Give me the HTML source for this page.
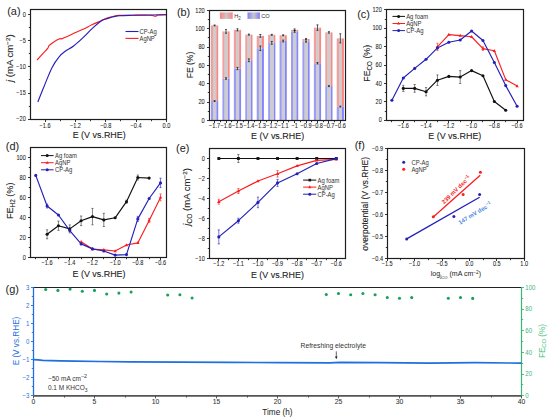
<!DOCTYPE html><html><head><meta charset="utf-8"><style>html,body{margin:0;padding:0;background:#fff;width:550px;height:420px;overflow:hidden}svg{display:block}text{font-family:"Liberation Sans",sans-serif}</style></head><body>
<svg width="550" height="420" viewBox="0 0 550 420">
<rect width="550" height="420" fill="#fff"/>
<line x1="45.50" y1="119.50" x2="45.50" y2="122.00" stroke="#1e1e1e" stroke-width="0.9"/>
<line x1="75.50" y1="119.50" x2="75.50" y2="122.00" stroke="#1e1e1e" stroke-width="0.9"/>
<line x1="105.50" y1="119.50" x2="105.50" y2="122.00" stroke="#1e1e1e" stroke-width="0.9"/>
<line x1="136.50" y1="119.50" x2="136.50" y2="122.00" stroke="#1e1e1e" stroke-width="0.9"/>
<line x1="166.50" y1="119.50" x2="166.50" y2="122.00" stroke="#1e1e1e" stroke-width="0.9"/>
<line x1="60.50" y1="119.50" x2="60.50" y2="121.20" stroke="#1e1e1e" stroke-width="0.9"/>
<line x1="90.50" y1="119.50" x2="90.50" y2="121.20" stroke="#1e1e1e" stroke-width="0.9"/>
<line x1="120.50" y1="119.50" x2="120.50" y2="121.20" stroke="#1e1e1e" stroke-width="0.9"/>
<line x1="151.50" y1="119.50" x2="151.50" y2="121.20" stroke="#1e1e1e" stroke-width="0.9"/>
<line x1="30.50" y1="14.50" x2="28.00" y2="14.50" stroke="#1e1e1e" stroke-width="0.9"/>
<line x1="30.50" y1="40.50" x2="28.00" y2="40.50" stroke="#1e1e1e" stroke-width="0.9"/>
<line x1="30.50" y1="66.50" x2="28.00" y2="66.50" stroke="#1e1e1e" stroke-width="0.9"/>
<line x1="30.50" y1="93.50" x2="28.00" y2="93.50" stroke="#1e1e1e" stroke-width="0.9"/>
<line x1="30.50" y1="119.50" x2="28.00" y2="119.50" stroke="#1e1e1e" stroke-width="0.9"/>
<line x1="30.50" y1="27.50" x2="28.80" y2="27.50" stroke="#1e1e1e" stroke-width="0.9"/>
<line x1="30.50" y1="53.50" x2="28.80" y2="53.50" stroke="#1e1e1e" stroke-width="0.9"/>
<line x1="30.50" y1="79.50" x2="28.80" y2="79.50" stroke="#1e1e1e" stroke-width="0.9"/>
<line x1="30.50" y1="106.50" x2="28.80" y2="106.50" stroke="#1e1e1e" stroke-width="0.9"/>
<text transform="translate(45.12 128.10) scale(0.86 1)" font-size="6.5" text-anchor="middle" fill="#222" font-weight="normal" stroke="#222" stroke-width="0.06">&#8722;1.6</text>
<text transform="translate(75.44 128.10) scale(0.86 1)" font-size="6.5" text-anchor="middle" fill="#222" font-weight="normal" stroke="#222" stroke-width="0.06">&#8722;1.2</text>
<text transform="translate(105.76 128.10) scale(0.86 1)" font-size="6.5" text-anchor="middle" fill="#222" font-weight="normal" stroke="#222" stroke-width="0.06">&#8722;0.8</text>
<text transform="translate(136.08 128.10) scale(0.86 1)" font-size="6.5" text-anchor="middle" fill="#222" font-weight="normal" stroke="#222" stroke-width="0.06">&#8722;0.4</text>
<text transform="translate(166.40 128.10) scale(0.86 1)" font-size="6.5" text-anchor="middle" fill="#222" font-weight="normal" stroke="#222" stroke-width="0.06">0.0</text>
<text transform="translate(25.80 16.50) scale(0.86 1)" font-size="6.5" text-anchor="end" fill="#222" font-weight="normal" stroke="#222" stroke-width="0.06">0</text>
<text transform="translate(25.80 42.65) scale(0.86 1)" font-size="6.5" text-anchor="end" fill="#222" font-weight="normal" stroke="#222" stroke-width="0.06">&#8722;5</text>
<text transform="translate(25.80 68.80) scale(0.86 1)" font-size="6.5" text-anchor="end" fill="#222" font-weight="normal" stroke="#222" stroke-width="0.06">&#8722;10</text>
<text transform="translate(25.80 94.95) scale(0.86 1)" font-size="6.5" text-anchor="end" fill="#222" font-weight="normal" stroke="#222" stroke-width="0.06">&#8722;15</text>
<text transform="translate(25.80 121.10) scale(0.86 1)" font-size="6.5" text-anchor="end" fill="#222" font-weight="normal" stroke="#222" stroke-width="0.06">&#8722;20</text>
<path d="M37.10,60.00 C38.10,58.88 41.30,55.28 43.10,53.30 C44.90,51.32 46.92,49.38 47.90,48.10 C48.88,46.82 48.02,46.63 49.00,45.60 C49.98,44.57 52.00,43.03 53.80,41.90 C55.60,40.77 58.42,39.35 59.80,38.80 C61.18,38.25 59.92,39.43 62.10,38.60 C64.28,37.77 69.32,35.40 72.90,33.80 C76.48,32.20 80.43,30.50 83.60,29.00 C86.77,27.50 88.93,26.18 91.90,24.80 C94.87,23.42 98.98,21.77 101.40,20.70 C103.82,19.63 104.52,19.10 106.40,18.40 C108.28,17.70 110.58,17.00 112.70,16.50 C114.82,16.00 115.92,15.62 119.10,15.40 C122.28,15.18 126.65,15.23 131.80,15.20 C136.95,15.17 146.07,15.02 150.00,15.20 C153.93,15.38 154.07,16.33 155.40,16.30 C156.73,16.27 156.23,15.28 158.00,15.00 C159.77,14.72 164.67,14.67 166.00,14.60" fill="none" stroke="#fa1e1e" stroke-width="1.15" stroke-linejoin="round"/>
<path d="M37.80,102.00 C39.00,99.02 42.62,89.87 45.00,84.10 C47.38,78.33 49.72,71.97 52.10,67.40 C54.48,62.83 57.12,59.38 59.30,56.70 C61.48,54.02 62.82,53.08 65.20,51.30 C67.58,49.52 70.62,48.27 73.60,46.00 C76.58,43.73 79.93,40.67 83.10,37.70 C86.27,34.73 89.43,31.10 92.60,28.20 C95.77,25.30 99.68,21.88 102.10,20.30 C104.52,18.72 105.22,19.28 107.10,18.70 C108.98,18.12 111.28,17.30 113.40,16.80 C115.52,16.30 116.62,15.95 119.80,15.70 C122.98,15.45 124.68,15.45 132.50,15.30 C140.32,15.15 161.00,14.88 166.70,14.80" fill="none" stroke="#2420b8" stroke-width="1.15" stroke-linejoin="round"/>
<rect x="30.50" y="9.50" width="136.00" height="110.00" fill="none" stroke="#1e1e1e" stroke-width="1.2"/>
<line x1="125.50" y1="31.50" x2="138.50" y2="31.50" stroke="#2420b8" stroke-width="1.1"/>
<text transform="translate(139.50 33.60) scale(0.86 1)" font-size="6.8" text-anchor="start" fill="#333" font-weight="normal">CP-Ag</text>
<line x1="125.50" y1="38.40" x2="138.50" y2="38.40" stroke="#fa1e1e" stroke-width="1.1"/>
<text transform="translate(139.50 40.50) scale(0.86 1)" font-size="6.8" text-anchor="start" fill="#333" font-weight="normal">AgNP</text>
<text transform="translate(7.20 15.20) scale(0.95 1)" font-size="11.5" text-anchor="start" fill="#222" font-weight="normal">(a)</text>
<text transform="translate(99.20 137.70) scale(0.96 1)" font-size="9.3" text-anchor="middle" fill="#222" font-weight="normal" stroke="#222" stroke-width="0.1">E (V vs.RHE)</text>
<text transform="translate(13.00 58.20) rotate(-90)" font-size="9.6" text-anchor="middle" fill="#222" font-weight="normal" stroke="#222" stroke-width="0.1"><tspan font-style="italic">j</tspan> (mA cm<tspan dy="-3" font-size="6.2">&#8722;2</tspan><tspan dy="3">)</tspan></text>
<defs><linearGradient id="gr" x1="0" x2="1" y1="0" y2="0"><stop offset="0" stop-color="#f59c9c"/><stop offset="0.24" stop-color="#f59c9c"/><stop offset="0.30" stop-color="#d0cccc"/><stop offset="0.74" stop-color="#d0cccc"/><stop offset="0.80" stop-color="#ff8484"/><stop offset="1" stop-color="#ff8484"/></linearGradient><linearGradient id="gb" x1="0" x2="1" y1="0" y2="0"><stop offset="0" stop-color="#9c9cf5"/><stop offset="0.24" stop-color="#9c9cf5"/><stop offset="0.30" stop-color="#cccdd2"/><stop offset="0.74" stop-color="#cccdd2"/><stop offset="0.80" stop-color="#8484ff"/><stop offset="1" stop-color="#8484ff"/></linearGradient>
<linearGradient id="lgr" x1="0" x2="1"><stop offset="0" stop-color="#ff7f7f"/><stop offset="0.5" stop-color="#c8c8c8"/><stop offset="1" stop-color="#ff7f7f"/></linearGradient>
<linearGradient id="lgb" x1="0" x2="1"><stop offset="0" stop-color="#7f7fff"/><stop offset="0.5" stop-color="#c8c8c8"/><stop offset="1" stop-color="#7f7fff"/></linearGradient></defs>
<rect x="211.00" y="25.44" width="7.2" height="75.63" fill="url(#gr)"/>
<rect x="211.00" y="101.07" width="7.2" height="19.43" fill="url(#gb)"/>
<rect x="222.43" y="31.40" width="7.2" height="47.12" fill="url(#gr)"/>
<rect x="222.43" y="78.52" width="7.2" height="41.98" fill="url(#gb)"/>
<rect x="233.86" y="29.84" width="7.2" height="38.68" fill="url(#gr)"/>
<rect x="233.86" y="68.52" width="7.2" height="51.98" fill="url(#gb)"/>
<rect x="245.29" y="34.61" width="7.2" height="25.67" fill="url(#gr)"/>
<rect x="245.29" y="60.27" width="7.2" height="60.23" fill="url(#gb)"/>
<rect x="256.72" y="35.89" width="7.2" height="12.38" fill="url(#gr)"/>
<rect x="256.72" y="48.26" width="7.2" height="72.24" fill="url(#gb)"/>
<rect x="268.15" y="34.79" width="7.2" height="8.07" fill="url(#gr)"/>
<rect x="268.15" y="42.86" width="7.2" height="77.64" fill="url(#gb)"/>
<rect x="279.58" y="35.25" width="7.2" height="5.78" fill="url(#gr)"/>
<rect x="279.58" y="41.02" width="7.2" height="79.48" fill="url(#gb)"/>
<rect x="291.01" y="29.84" width="7.2" height="1.56" fill="url(#gr)"/>
<rect x="291.01" y="31.40" width="7.2" height="89.10" fill="url(#gb)"/>
<rect x="302.44" y="39.01" width="7.2" height="2.57" fill="url(#gr)"/>
<rect x="302.44" y="41.57" width="7.2" height="78.93" fill="url(#gb)"/>
<rect x="313.87" y="27.64" width="7.2" height="35.57" fill="url(#gr)"/>
<rect x="313.87" y="63.21" width="7.2" height="57.29" fill="url(#gb)"/>
<rect x="325.30" y="32.41" width="7.2" height="53.72" fill="url(#gr)"/>
<rect x="325.30" y="86.12" width="7.2" height="34.38" fill="url(#gb)"/>
<rect x="336.73" y="38.36" width="7.2" height="68.20" fill="url(#gr)"/>
<rect x="336.73" y="106.57" width="7.2" height="13.93" fill="url(#gb)"/>
<line x1="214.60" y1="24.98" x2="214.60" y2="25.90" stroke="#111" stroke-width="0.7"/>
<line x1="213.60" y1="24.98" x2="215.60" y2="24.98" stroke="#111" stroke-width="0.7"/>
<line x1="213.60" y1="25.90" x2="215.60" y2="25.90" stroke="#111" stroke-width="0.7"/>
<line x1="214.60" y1="100.61" x2="214.60" y2="101.52" stroke="#111" stroke-width="0.7"/>
<line x1="213.60" y1="100.61" x2="215.60" y2="100.61" stroke="#111" stroke-width="0.7"/>
<line x1="213.60" y1="101.52" x2="215.60" y2="101.52" stroke="#111" stroke-width="0.7"/>
<line x1="226.03" y1="29.56" x2="226.03" y2="33.23" stroke="#111" stroke-width="0.7"/>
<line x1="225.03" y1="29.56" x2="227.03" y2="29.56" stroke="#111" stroke-width="0.7"/>
<line x1="225.03" y1="33.23" x2="227.03" y2="33.23" stroke="#111" stroke-width="0.7"/>
<line x1="226.03" y1="77.78" x2="226.03" y2="79.25" stroke="#111" stroke-width="0.7"/>
<line x1="225.03" y1="77.78" x2="227.03" y2="77.78" stroke="#111" stroke-width="0.7"/>
<line x1="225.03" y1="79.25" x2="227.03" y2="79.25" stroke="#111" stroke-width="0.7"/>
<line x1="237.46" y1="28.74" x2="237.46" y2="30.94" stroke="#111" stroke-width="0.7"/>
<line x1="236.46" y1="28.74" x2="238.46" y2="28.74" stroke="#111" stroke-width="0.7"/>
<line x1="236.46" y1="30.94" x2="238.46" y2="30.94" stroke="#111" stroke-width="0.7"/>
<line x1="237.46" y1="67.42" x2="237.46" y2="69.62" stroke="#111" stroke-width="0.7"/>
<line x1="236.46" y1="67.42" x2="238.46" y2="67.42" stroke="#111" stroke-width="0.7"/>
<line x1="236.46" y1="69.62" x2="238.46" y2="69.62" stroke="#111" stroke-width="0.7"/>
<line x1="248.89" y1="34.06" x2="248.89" y2="35.16" stroke="#111" stroke-width="0.7"/>
<line x1="247.89" y1="34.06" x2="249.89" y2="34.06" stroke="#111" stroke-width="0.7"/>
<line x1="247.89" y1="35.16" x2="249.89" y2="35.16" stroke="#111" stroke-width="0.7"/>
<line x1="248.89" y1="58.90" x2="248.89" y2="61.65" stroke="#111" stroke-width="0.7"/>
<line x1="247.89" y1="58.90" x2="249.89" y2="58.90" stroke="#111" stroke-width="0.7"/>
<line x1="247.89" y1="61.65" x2="249.89" y2="61.65" stroke="#111" stroke-width="0.7"/>
<line x1="260.32" y1="34.51" x2="260.32" y2="37.26" stroke="#111" stroke-width="0.7"/>
<line x1="259.32" y1="34.51" x2="261.32" y2="34.51" stroke="#111" stroke-width="0.7"/>
<line x1="259.32" y1="37.26" x2="261.32" y2="37.26" stroke="#111" stroke-width="0.7"/>
<line x1="260.32" y1="45.97" x2="260.32" y2="50.56" stroke="#111" stroke-width="0.7"/>
<line x1="259.32" y1="45.97" x2="261.32" y2="45.97" stroke="#111" stroke-width="0.7"/>
<line x1="259.32" y1="50.56" x2="261.32" y2="50.56" stroke="#111" stroke-width="0.7"/>
<line x1="271.75" y1="34.33" x2="271.75" y2="35.25" stroke="#111" stroke-width="0.7"/>
<line x1="270.75" y1="34.33" x2="272.75" y2="34.33" stroke="#111" stroke-width="0.7"/>
<line x1="270.75" y1="35.25" x2="272.75" y2="35.25" stroke="#111" stroke-width="0.7"/>
<line x1="271.75" y1="41.48" x2="271.75" y2="44.23" stroke="#111" stroke-width="0.7"/>
<line x1="270.75" y1="41.48" x2="272.75" y2="41.48" stroke="#111" stroke-width="0.7"/>
<line x1="270.75" y1="44.23" x2="272.75" y2="44.23" stroke="#111" stroke-width="0.7"/>
<line x1="283.18" y1="34.79" x2="283.18" y2="35.71" stroke="#111" stroke-width="0.7"/>
<line x1="282.18" y1="34.79" x2="284.18" y2="34.79" stroke="#111" stroke-width="0.7"/>
<line x1="282.18" y1="35.71" x2="284.18" y2="35.71" stroke="#111" stroke-width="0.7"/>
<line x1="283.18" y1="40.11" x2="283.18" y2="41.94" stroke="#111" stroke-width="0.7"/>
<line x1="282.18" y1="40.11" x2="284.18" y2="40.11" stroke="#111" stroke-width="0.7"/>
<line x1="282.18" y1="41.94" x2="284.18" y2="41.94" stroke="#111" stroke-width="0.7"/>
<line x1="294.61" y1="28.92" x2="294.61" y2="30.76" stroke="#111" stroke-width="0.7"/>
<line x1="293.61" y1="28.92" x2="295.61" y2="28.92" stroke="#111" stroke-width="0.7"/>
<line x1="293.61" y1="30.76" x2="295.61" y2="30.76" stroke="#111" stroke-width="0.7"/>
<line x1="294.61" y1="30.48" x2="294.61" y2="32.31" stroke="#111" stroke-width="0.7"/>
<line x1="293.61" y1="30.48" x2="295.61" y2="30.48" stroke="#111" stroke-width="0.7"/>
<line x1="293.61" y1="32.31" x2="295.61" y2="32.31" stroke="#111" stroke-width="0.7"/>
<line x1="306.04" y1="38.46" x2="306.04" y2="39.56" stroke="#111" stroke-width="0.7"/>
<line x1="305.04" y1="38.46" x2="307.04" y2="38.46" stroke="#111" stroke-width="0.7"/>
<line x1="305.04" y1="39.56" x2="307.04" y2="39.56" stroke="#111" stroke-width="0.7"/>
<line x1="306.04" y1="41.02" x2="306.04" y2="42.12" stroke="#111" stroke-width="0.7"/>
<line x1="305.04" y1="41.02" x2="307.04" y2="41.02" stroke="#111" stroke-width="0.7"/>
<line x1="305.04" y1="42.12" x2="307.04" y2="42.12" stroke="#111" stroke-width="0.7"/>
<line x1="317.47" y1="24.89" x2="317.47" y2="30.39" stroke="#111" stroke-width="0.7"/>
<line x1="316.47" y1="24.89" x2="318.47" y2="24.89" stroke="#111" stroke-width="0.7"/>
<line x1="316.47" y1="30.39" x2="318.47" y2="30.39" stroke="#111" stroke-width="0.7"/>
<line x1="317.47" y1="62.47" x2="317.47" y2="63.94" stroke="#111" stroke-width="0.7"/>
<line x1="316.47" y1="62.47" x2="318.47" y2="62.47" stroke="#111" stroke-width="0.7"/>
<line x1="316.47" y1="63.94" x2="318.47" y2="63.94" stroke="#111" stroke-width="0.7"/>
<line x1="328.90" y1="31.67" x2="328.90" y2="33.14" stroke="#111" stroke-width="0.7"/>
<line x1="327.90" y1="31.67" x2="329.90" y2="31.67" stroke="#111" stroke-width="0.7"/>
<line x1="327.90" y1="33.14" x2="329.90" y2="33.14" stroke="#111" stroke-width="0.7"/>
<line x1="328.90" y1="85.67" x2="328.90" y2="86.58" stroke="#111" stroke-width="0.7"/>
<line x1="327.90" y1="85.67" x2="329.90" y2="85.67" stroke="#111" stroke-width="0.7"/>
<line x1="327.90" y1="86.58" x2="329.90" y2="86.58" stroke="#111" stroke-width="0.7"/>
<line x1="340.33" y1="33.78" x2="340.33" y2="42.95" stroke="#111" stroke-width="0.7"/>
<line x1="339.33" y1="33.78" x2="341.33" y2="33.78" stroke="#111" stroke-width="0.7"/>
<line x1="339.33" y1="42.95" x2="341.33" y2="42.95" stroke="#111" stroke-width="0.7"/>
<line x1="340.33" y1="106.11" x2="340.33" y2="107.02" stroke="#111" stroke-width="0.7"/>
<line x1="339.33" y1="106.11" x2="341.33" y2="106.11" stroke="#111" stroke-width="0.7"/>
<line x1="339.33" y1="107.02" x2="341.33" y2="107.02" stroke="#111" stroke-width="0.7"/>
<rect x="209.50" y="10.50" width="136.00" height="110.00" fill="none" stroke="#1e1e1e" stroke-width="1.2"/>
<line x1="209.50" y1="120.50" x2="207.00" y2="120.50" stroke="#1e1e1e" stroke-width="0.9"/>
<line x1="209.50" y1="102.50" x2="207.00" y2="102.50" stroke="#1e1e1e" stroke-width="0.9"/>
<line x1="209.50" y1="83.50" x2="207.00" y2="83.50" stroke="#1e1e1e" stroke-width="0.9"/>
<line x1="209.50" y1="65.50" x2="207.00" y2="65.50" stroke="#1e1e1e" stroke-width="0.9"/>
<line x1="209.50" y1="47.50" x2="207.00" y2="47.50" stroke="#1e1e1e" stroke-width="0.9"/>
<line x1="209.50" y1="28.50" x2="207.00" y2="28.50" stroke="#1e1e1e" stroke-width="0.9"/>
<line x1="209.50" y1="10.50" x2="207.00" y2="10.50" stroke="#1e1e1e" stroke-width="0.9"/>
<line x1="209.50" y1="111.50" x2="207.80" y2="111.50" stroke="#1e1e1e" stroke-width="0.9"/>
<line x1="209.50" y1="92.50" x2="207.80" y2="92.50" stroke="#1e1e1e" stroke-width="0.9"/>
<line x1="209.50" y1="74.50" x2="207.80" y2="74.50" stroke="#1e1e1e" stroke-width="0.9"/>
<line x1="209.50" y1="56.50" x2="207.80" y2="56.50" stroke="#1e1e1e" stroke-width="0.9"/>
<line x1="209.50" y1="37.50" x2="207.80" y2="37.50" stroke="#1e1e1e" stroke-width="0.9"/>
<line x1="209.50" y1="19.50" x2="207.80" y2="19.50" stroke="#1e1e1e" stroke-width="0.9"/>
<line x1="214.50" y1="120.50" x2="214.50" y2="123.00" stroke="#1e1e1e" stroke-width="0.9"/>
<line x1="226.50" y1="120.50" x2="226.50" y2="123.00" stroke="#1e1e1e" stroke-width="0.9"/>
<line x1="237.50" y1="120.50" x2="237.50" y2="123.00" stroke="#1e1e1e" stroke-width="0.9"/>
<line x1="248.50" y1="120.50" x2="248.50" y2="123.00" stroke="#1e1e1e" stroke-width="0.9"/>
<line x1="260.50" y1="120.50" x2="260.50" y2="123.00" stroke="#1e1e1e" stroke-width="0.9"/>
<line x1="271.50" y1="120.50" x2="271.50" y2="123.00" stroke="#1e1e1e" stroke-width="0.9"/>
<line x1="283.50" y1="120.50" x2="283.50" y2="123.00" stroke="#1e1e1e" stroke-width="0.9"/>
<line x1="294.50" y1="120.50" x2="294.50" y2="123.00" stroke="#1e1e1e" stroke-width="0.9"/>
<line x1="306.50" y1="120.50" x2="306.50" y2="123.00" stroke="#1e1e1e" stroke-width="0.9"/>
<line x1="317.50" y1="120.50" x2="317.50" y2="123.00" stroke="#1e1e1e" stroke-width="0.9"/>
<line x1="328.50" y1="120.50" x2="328.50" y2="123.00" stroke="#1e1e1e" stroke-width="0.9"/>
<line x1="340.50" y1="120.50" x2="340.50" y2="123.00" stroke="#1e1e1e" stroke-width="0.9"/>
<line x1="220.50" y1="120.50" x2="220.50" y2="122.20" stroke="#1e1e1e" stroke-width="0.9"/>
<line x1="231.50" y1="120.50" x2="231.50" y2="122.20" stroke="#1e1e1e" stroke-width="0.9"/>
<line x1="243.50" y1="120.50" x2="243.50" y2="122.20" stroke="#1e1e1e" stroke-width="0.9"/>
<line x1="254.50" y1="120.50" x2="254.50" y2="122.20" stroke="#1e1e1e" stroke-width="0.9"/>
<line x1="266.50" y1="120.50" x2="266.50" y2="122.20" stroke="#1e1e1e" stroke-width="0.9"/>
<line x1="277.50" y1="120.50" x2="277.50" y2="122.20" stroke="#1e1e1e" stroke-width="0.9"/>
<line x1="288.50" y1="120.50" x2="288.50" y2="122.20" stroke="#1e1e1e" stroke-width="0.9"/>
<line x1="300.50" y1="120.50" x2="300.50" y2="122.20" stroke="#1e1e1e" stroke-width="0.9"/>
<line x1="311.50" y1="120.50" x2="311.50" y2="122.20" stroke="#1e1e1e" stroke-width="0.9"/>
<line x1="323.50" y1="120.50" x2="323.50" y2="122.20" stroke="#1e1e1e" stroke-width="0.9"/>
<line x1="334.50" y1="120.50" x2="334.50" y2="122.20" stroke="#1e1e1e" stroke-width="0.9"/>
<text transform="translate(204.60 122.60) scale(0.86 1)" font-size="6.5" text-anchor="end" fill="#222" font-weight="normal" stroke="#222" stroke-width="0.06">0</text>
<text transform="translate(204.60 104.27) scale(0.86 1)" font-size="6.5" text-anchor="end" fill="#222" font-weight="normal" stroke="#222" stroke-width="0.06">20</text>
<text transform="translate(204.60 85.93) scale(0.86 1)" font-size="6.5" text-anchor="end" fill="#222" font-weight="normal" stroke="#222" stroke-width="0.06">40</text>
<text transform="translate(204.60 67.60) scale(0.86 1)" font-size="6.5" text-anchor="end" fill="#222" font-weight="normal" stroke="#222" stroke-width="0.06">60</text>
<text transform="translate(204.60 49.26) scale(0.86 1)" font-size="6.5" text-anchor="end" fill="#222" font-weight="normal" stroke="#222" stroke-width="0.06">80</text>
<text transform="translate(204.60 30.93) scale(0.86 1)" font-size="6.5" text-anchor="end" fill="#222" font-weight="normal" stroke="#222" stroke-width="0.06">100</text>
<text transform="translate(204.60 12.60) scale(0.86 1)" font-size="6.5" text-anchor="end" fill="#222" font-weight="normal" stroke="#222" stroke-width="0.06">120</text>
<text transform="translate(214.60 128.30) scale(0.86 1)" font-size="6.5" text-anchor="middle" fill="#222" font-weight="normal" stroke="#222" stroke-width="0.06">&#8722;1.7</text>
<text transform="translate(226.03 128.30) scale(0.86 1)" font-size="6.5" text-anchor="middle" fill="#222" font-weight="normal" stroke="#222" stroke-width="0.06">&#8722;1.6</text>
<text transform="translate(237.46 128.30) scale(0.86 1)" font-size="6.5" text-anchor="middle" fill="#222" font-weight="normal" stroke="#222" stroke-width="0.06">&#8722;1.5</text>
<text transform="translate(248.89 128.30) scale(0.86 1)" font-size="6.5" text-anchor="middle" fill="#222" font-weight="normal" stroke="#222" stroke-width="0.06">&#8722;1.4</text>
<text transform="translate(260.32 128.30) scale(0.86 1)" font-size="6.5" text-anchor="middle" fill="#222" font-weight="normal" stroke="#222" stroke-width="0.06">&#8722;1.3</text>
<text transform="translate(271.75 128.30) scale(0.86 1)" font-size="6.5" text-anchor="middle" fill="#222" font-weight="normal" stroke="#222" stroke-width="0.06">&#8722;1.2</text>
<text transform="translate(283.18 128.30) scale(0.86 1)" font-size="6.5" text-anchor="middle" fill="#222" font-weight="normal" stroke="#222" stroke-width="0.06">&#8722;1.1</text>
<text transform="translate(294.61 128.30) scale(0.86 1)" font-size="6.5" text-anchor="middle" fill="#222" font-weight="normal" stroke="#222" stroke-width="0.06">&#8722;1</text>
<text transform="translate(306.04 128.30) scale(0.86 1)" font-size="6.5" text-anchor="middle" fill="#222" font-weight="normal" stroke="#222" stroke-width="0.06">&#8722;0.9</text>
<text transform="translate(317.47 128.30) scale(0.86 1)" font-size="6.5" text-anchor="middle" fill="#222" font-weight="normal" stroke="#222" stroke-width="0.06">&#8722;0.8</text>
<text transform="translate(328.90 128.30) scale(0.86 1)" font-size="6.5" text-anchor="middle" fill="#222" font-weight="normal" stroke="#222" stroke-width="0.06">&#8722;0.7</text>
<text transform="translate(340.33 128.30) scale(0.86 1)" font-size="6.5" text-anchor="middle" fill="#222" font-weight="normal" stroke="#222" stroke-width="0.06">&#8722;0.6</text>
<rect x="219.9" y="12.4" width="12.8" height="6.5" fill="url(#lgr)"/>
<text transform="translate(234.20 17.70) scale(0.96 1)" font-size="5.9" text-anchor="start" fill="#333" font-weight="normal">H<tspan dy="1.8" font-size="4.6">2</tspan></text>
<rect x="247.5" y="12.4" width="12.4" height="6.5" fill="url(#lgb)"/>
<text transform="translate(261.20 17.70) scale(0.96 1)" font-size="5.9" text-anchor="start" fill="#333" font-weight="normal">CO</text>
<text transform="translate(176.90 15.60) scale(0.95 1)" font-size="11.5" text-anchor="start" fill="#222" font-weight="normal">(b)</text>
<text transform="translate(277.60 138.50) scale(0.96 1)" font-size="9.3" text-anchor="middle" fill="#222" font-weight="normal" stroke="#222" stroke-width="0.1">E (V vs.RHE)</text>
<text transform="translate(192.60 65.00) rotate(-90) scale(0.92 1)" font-size="9.3" text-anchor="middle" fill="#222" font-weight="normal" stroke="#222" stroke-width="0.1">FE (%)</text>
<line x1="403.50" y1="120.50" x2="403.50" y2="123.00" stroke="#1e1e1e" stroke-width="0.9"/>
<line x1="426.50" y1="120.50" x2="426.50" y2="123.00" stroke="#1e1e1e" stroke-width="0.9"/>
<line x1="448.50" y1="120.50" x2="448.50" y2="123.00" stroke="#1e1e1e" stroke-width="0.9"/>
<line x1="471.50" y1="120.50" x2="471.50" y2="123.00" stroke="#1e1e1e" stroke-width="0.9"/>
<line x1="494.50" y1="120.50" x2="494.50" y2="123.00" stroke="#1e1e1e" stroke-width="0.9"/>
<line x1="517.50" y1="120.50" x2="517.50" y2="123.00" stroke="#1e1e1e" stroke-width="0.9"/>
<line x1="391.50" y1="120.50" x2="391.50" y2="122.20" stroke="#1e1e1e" stroke-width="0.9"/>
<line x1="414.50" y1="120.50" x2="414.50" y2="122.20" stroke="#1e1e1e" stroke-width="0.9"/>
<line x1="437.50" y1="120.50" x2="437.50" y2="122.20" stroke="#1e1e1e" stroke-width="0.9"/>
<line x1="460.50" y1="120.50" x2="460.50" y2="122.20" stroke="#1e1e1e" stroke-width="0.9"/>
<line x1="482.50" y1="120.50" x2="482.50" y2="122.20" stroke="#1e1e1e" stroke-width="0.9"/>
<line x1="505.50" y1="120.50" x2="505.50" y2="122.20" stroke="#1e1e1e" stroke-width="0.9"/>
<line x1="386.50" y1="120.50" x2="384.00" y2="120.50" stroke="#1e1e1e" stroke-width="0.9"/>
<line x1="386.50" y1="101.50" x2="384.00" y2="101.50" stroke="#1e1e1e" stroke-width="0.9"/>
<line x1="386.50" y1="83.50" x2="384.00" y2="83.50" stroke="#1e1e1e" stroke-width="0.9"/>
<line x1="386.50" y1="65.50" x2="384.00" y2="65.50" stroke="#1e1e1e" stroke-width="0.9"/>
<line x1="386.50" y1="46.50" x2="384.00" y2="46.50" stroke="#1e1e1e" stroke-width="0.9"/>
<line x1="386.50" y1="28.50" x2="384.00" y2="28.50" stroke="#1e1e1e" stroke-width="0.9"/>
<line x1="386.50" y1="9.50" x2="384.00" y2="9.50" stroke="#1e1e1e" stroke-width="0.9"/>
<line x1="386.50" y1="111.50" x2="384.80" y2="111.50" stroke="#1e1e1e" stroke-width="0.9"/>
<line x1="386.50" y1="92.50" x2="384.80" y2="92.50" stroke="#1e1e1e" stroke-width="0.9"/>
<line x1="386.50" y1="74.50" x2="384.80" y2="74.50" stroke="#1e1e1e" stroke-width="0.9"/>
<line x1="386.50" y1="55.50" x2="384.80" y2="55.50" stroke="#1e1e1e" stroke-width="0.9"/>
<line x1="386.50" y1="37.50" x2="384.80" y2="37.50" stroke="#1e1e1e" stroke-width="0.9"/>
<line x1="386.50" y1="19.50" x2="384.80" y2="19.50" stroke="#1e1e1e" stroke-width="0.9"/>
<text transform="translate(403.30 128.30) scale(0.86 1)" font-size="6.5" text-anchor="middle" fill="#222" font-weight="normal" stroke="#222" stroke-width="0.06">&#8722;1.6</text>
<text transform="translate(426.06 128.30) scale(0.86 1)" font-size="6.5" text-anchor="middle" fill="#222" font-weight="normal" stroke="#222" stroke-width="0.06">&#8722;1.4</text>
<text transform="translate(448.82 128.30) scale(0.86 1)" font-size="6.5" text-anchor="middle" fill="#222" font-weight="normal" stroke="#222" stroke-width="0.06">&#8722;1.2</text>
<text transform="translate(471.58 128.30) scale(0.86 1)" font-size="6.5" text-anchor="middle" fill="#222" font-weight="normal" stroke="#222" stroke-width="0.06">&#8722;1.0</text>
<text transform="translate(494.34 128.30) scale(0.86 1)" font-size="6.5" text-anchor="middle" fill="#222" font-weight="normal" stroke="#222" stroke-width="0.06">&#8722;0.8</text>
<text transform="translate(517.10 128.30) scale(0.86 1)" font-size="6.5" text-anchor="middle" fill="#222" font-weight="normal" stroke="#222" stroke-width="0.06">&#8722;0.6</text>
<text transform="translate(381.80 122.40) scale(0.86 1)" font-size="6.5" text-anchor="end" fill="#222" font-weight="normal" stroke="#222" stroke-width="0.06">0</text>
<text transform="translate(381.80 104.00) scale(0.86 1)" font-size="6.5" text-anchor="end" fill="#222" font-weight="normal" stroke="#222" stroke-width="0.06">20</text>
<text transform="translate(381.80 85.60) scale(0.86 1)" font-size="6.5" text-anchor="end" fill="#222" font-weight="normal" stroke="#222" stroke-width="0.06">40</text>
<text transform="translate(381.80 67.20) scale(0.86 1)" font-size="6.5" text-anchor="end" fill="#222" font-weight="normal" stroke="#222" stroke-width="0.06">60</text>
<text transform="translate(381.80 48.80) scale(0.86 1)" font-size="6.5" text-anchor="end" fill="#222" font-weight="normal" stroke="#222" stroke-width="0.06">80</text>
<text transform="translate(381.80 30.40) scale(0.86 1)" font-size="6.5" text-anchor="end" fill="#222" font-weight="normal" stroke="#222" stroke-width="0.06">100</text>
<text transform="translate(381.80 12.00) scale(0.86 1)" font-size="6.5" text-anchor="end" fill="#222" font-weight="normal" stroke="#222" stroke-width="0.06">120</text>
<line x1="403.30" y1="85.34" x2="403.30" y2="91.41" stroke="#333" stroke-width="0.6"/>
<line x1="402.20" y1="85.34" x2="404.40" y2="85.34" stroke="#333" stroke-width="0.6"/>
<line x1="402.20" y1="91.41" x2="404.40" y2="91.41" stroke="#333" stroke-width="0.6"/>
<line x1="414.68" y1="84.51" x2="414.68" y2="92.24" stroke="#333" stroke-width="0.6"/>
<line x1="413.58" y1="84.51" x2="415.78" y2="84.51" stroke="#333" stroke-width="0.6"/>
<line x1="413.58" y1="92.24" x2="415.78" y2="92.24" stroke="#333" stroke-width="0.6"/>
<line x1="426.06" y1="87.55" x2="426.06" y2="95.83" stroke="#333" stroke-width="0.6"/>
<line x1="424.96" y1="87.55" x2="427.16" y2="87.55" stroke="#333" stroke-width="0.6"/>
<line x1="424.96" y1="95.83" x2="427.16" y2="95.83" stroke="#333" stroke-width="0.6"/>
<line x1="437.44" y1="74.94" x2="437.44" y2="85.43" stroke="#333" stroke-width="0.6"/>
<line x1="436.34" y1="74.94" x2="438.54" y2="74.94" stroke="#333" stroke-width="0.6"/>
<line x1="436.34" y1="85.43" x2="438.54" y2="85.43" stroke="#333" stroke-width="0.6"/>
<line x1="460.20" y1="70.62" x2="460.20" y2="83.50" stroke="#333" stroke-width="0.6"/>
<line x1="459.10" y1="70.62" x2="461.30" y2="70.62" stroke="#333" stroke-width="0.6"/>
<line x1="459.10" y1="83.50" x2="461.30" y2="83.50" stroke="#333" stroke-width="0.6"/>
<line x1="437.44" y1="43.20" x2="437.44" y2="50.56" stroke="#fa1e1e" stroke-width="0.6"/>
<line x1="436.34" y1="43.20" x2="438.54" y2="43.20" stroke="#fa1e1e" stroke-width="0.6"/>
<line x1="436.34" y1="50.56" x2="438.54" y2="50.56" stroke="#fa1e1e" stroke-width="0.6"/>
<line x1="482.96" y1="46.79" x2="482.96" y2="50.47" stroke="#fa1e1e" stroke-width="0.6"/>
<line x1="481.86" y1="46.79" x2="484.06" y2="46.79" stroke="#fa1e1e" stroke-width="0.6"/>
<line x1="481.86" y1="50.47" x2="484.06" y2="50.47" stroke="#fa1e1e" stroke-width="0.6"/>
<path d="M403.30,88.38 L414.68,88.38 L426.06,91.69 L437.44,80.19 L448.82,76.42 L460.20,77.06 L471.58,70.62 L482.96,75.77 L494.34,101.53 L505.72,110.27" fill="none" stroke="#111" stroke-width="1.15" stroke-linejoin="round"/>
<path d="M437.44,46.88 L448.82,34.56 L460.20,35.66 L471.58,36.76 L482.96,48.63 L494.34,50.75 L505.72,79.64 L517.10,86.08" fill="none" stroke="#fa1e1e" stroke-width="1.15" stroke-linejoin="round"/>
<path d="M391.92,100.24 L403.30,77.98 L414.68,68.41 L426.06,59.30 L437.44,47.90 L448.82,42.19 L460.20,39.98 L471.58,30.97 L482.96,40.44 L494.34,62.52 L505.72,85.62 L517.10,106.22" fill="none" stroke="#2420b8" stroke-width="1.15" stroke-linejoin="round"/>
<circle cx="403.30" cy="88.38" r="1.55" fill="#111"/>
<circle cx="414.68" cy="88.38" r="1.55" fill="#111"/>
<circle cx="426.06" cy="91.69" r="1.55" fill="#111"/>
<circle cx="437.44" cy="80.19" r="1.55" fill="#111"/>
<circle cx="448.82" cy="76.42" r="1.55" fill="#111"/>
<circle cx="460.20" cy="77.06" r="1.55" fill="#111"/>
<circle cx="471.58" cy="70.62" r="1.55" fill="#111"/>
<circle cx="482.96" cy="75.77" r="1.55" fill="#111"/>
<circle cx="494.34" cy="101.53" r="1.55" fill="#111"/>
<circle cx="505.72" cy="110.27" r="1.55" fill="#111"/>
<path d="M437.44,45.01 L439.14,48.07 L435.74,48.07Z" fill="#fa1e1e"/>
<path d="M448.82,32.69 L450.52,35.75 L447.12,35.75Z" fill="#fa1e1e"/>
<path d="M460.20,33.79 L461.90,36.85 L458.50,36.85Z" fill="#fa1e1e"/>
<path d="M471.58,34.89 L473.28,37.95 L469.88,37.95Z" fill="#fa1e1e"/>
<path d="M482.96,46.76 L484.66,49.82 L481.26,49.82Z" fill="#fa1e1e"/>
<path d="M494.34,48.88 L496.04,51.94 L492.64,51.94Z" fill="#fa1e1e"/>
<path d="M505.72,77.77 L507.42,80.83 L504.02,80.83Z" fill="#fa1e1e"/>
<path d="M517.10,84.21 L518.80,87.27 L515.40,87.27Z" fill="#fa1e1e"/>
<circle cx="391.92" cy="100.24" r="1.55" fill="#2420b8"/>
<circle cx="403.30" cy="77.98" r="1.55" fill="#2420b8"/>
<circle cx="414.68" cy="68.41" r="1.55" fill="#2420b8"/>
<circle cx="426.06" cy="59.30" r="1.55" fill="#2420b8"/>
<circle cx="437.44" cy="47.90" r="1.55" fill="#2420b8"/>
<circle cx="448.82" cy="42.19" r="1.55" fill="#2420b8"/>
<circle cx="460.20" cy="39.98" r="1.55" fill="#2420b8"/>
<circle cx="471.58" cy="30.97" r="1.55" fill="#2420b8"/>
<circle cx="482.96" cy="40.44" r="1.55" fill="#2420b8"/>
<circle cx="494.34" cy="62.52" r="1.55" fill="#2420b8"/>
<circle cx="505.72" cy="85.62" r="1.55" fill="#2420b8"/>
<circle cx="517.10" cy="106.22" r="1.55" fill="#2420b8"/>
<rect x="386.50" y="9.50" width="137.00" height="111.00" fill="none" stroke="#1e1e1e" stroke-width="1.2"/>
<line x1="392.50" y1="16.40" x2="405.00" y2="16.40" stroke="#111" stroke-width="1.0"/>
<circle cx="398.60" cy="16.40" r="1.5" fill="#111"/>
<text transform="translate(406.20 18.70) scale(0.92 1)" font-size="6.4" text-anchor="start" fill="#333" font-weight="normal">Ag foam</text>
<line x1="392.50" y1="23.50" x2="405.00" y2="23.50" stroke="#fa1e1e" stroke-width="1.0"/>
<path d="M398.60,21.74 L400.20,24.62 L397.00,24.62Z" fill="#fa1e1e"/>
<text transform="translate(406.20 25.90) scale(0.92 1)" font-size="6.4" text-anchor="start" fill="#333" font-weight="normal">AgNP</text>
<line x1="392.50" y1="30.60" x2="405.00" y2="30.60" stroke="#2420b8" stroke-width="1.0"/>
<circle cx="398.60" cy="30.60" r="1.5" fill="#2420b8"/>
<text transform="translate(406.20 33.00) scale(0.92 1)" font-size="6.4" text-anchor="start" fill="#333" font-weight="normal">CP-Ag</text>
<text transform="translate(357.20 17.60) scale(0.95 1)" font-size="11.5" text-anchor="start" fill="#222" font-weight="normal">(c)</text>
<text transform="translate(454.80 138.60) scale(0.96 1)" font-size="9.3" text-anchor="middle" fill="#222" font-weight="normal" stroke="#222" stroke-width="0.1">E (V vs.RHE)</text>
<text transform="translate(369.50 63.30) rotate(-90) scale(0.95 1)" font-size="9.3" text-anchor="middle" fill="#222" font-weight="normal" stroke="#222" stroke-width="0.1">FE<tspan dy="2" font-size="6.6">CO</tspan><tspan dy="-2"> (%)</tspan></text>
<line x1="47.50" y1="257.50" x2="47.50" y2="260.00" stroke="#1e1e1e" stroke-width="0.9"/>
<line x1="69.50" y1="257.50" x2="69.50" y2="260.00" stroke="#1e1e1e" stroke-width="0.9"/>
<line x1="92.50" y1="257.50" x2="92.50" y2="260.00" stroke="#1e1e1e" stroke-width="0.9"/>
<line x1="115.50" y1="257.50" x2="115.50" y2="260.00" stroke="#1e1e1e" stroke-width="0.9"/>
<line x1="137.50" y1="257.50" x2="137.50" y2="260.00" stroke="#1e1e1e" stroke-width="0.9"/>
<line x1="160.50" y1="257.50" x2="160.50" y2="260.00" stroke="#1e1e1e" stroke-width="0.9"/>
<line x1="35.50" y1="257.50" x2="35.50" y2="259.20" stroke="#1e1e1e" stroke-width="0.9"/>
<line x1="58.50" y1="257.50" x2="58.50" y2="259.20" stroke="#1e1e1e" stroke-width="0.9"/>
<line x1="81.50" y1="257.50" x2="81.50" y2="259.20" stroke="#1e1e1e" stroke-width="0.9"/>
<line x1="103.50" y1="257.50" x2="103.50" y2="259.20" stroke="#1e1e1e" stroke-width="0.9"/>
<line x1="126.50" y1="257.50" x2="126.50" y2="259.20" stroke="#1e1e1e" stroke-width="0.9"/>
<line x1="149.50" y1="257.50" x2="149.50" y2="259.20" stroke="#1e1e1e" stroke-width="0.9"/>
<line x1="30.50" y1="257.50" x2="28.00" y2="257.50" stroke="#1e1e1e" stroke-width="0.9"/>
<line x1="30.50" y1="237.50" x2="28.00" y2="237.50" stroke="#1e1e1e" stroke-width="0.9"/>
<line x1="30.50" y1="217.50" x2="28.00" y2="217.50" stroke="#1e1e1e" stroke-width="0.9"/>
<line x1="30.50" y1="197.50" x2="28.00" y2="197.50" stroke="#1e1e1e" stroke-width="0.9"/>
<line x1="30.50" y1="177.50" x2="28.00" y2="177.50" stroke="#1e1e1e" stroke-width="0.9"/>
<line x1="30.50" y1="157.50" x2="28.00" y2="157.50" stroke="#1e1e1e" stroke-width="0.9"/>
<line x1="30.50" y1="247.50" x2="28.80" y2="247.50" stroke="#1e1e1e" stroke-width="0.9"/>
<line x1="30.50" y1="227.50" x2="28.80" y2="227.50" stroke="#1e1e1e" stroke-width="0.9"/>
<line x1="30.50" y1="207.50" x2="28.80" y2="207.50" stroke="#1e1e1e" stroke-width="0.9"/>
<line x1="30.50" y1="187.50" x2="28.80" y2="187.50" stroke="#1e1e1e" stroke-width="0.9"/>
<line x1="30.50" y1="167.50" x2="28.80" y2="167.50" stroke="#1e1e1e" stroke-width="0.9"/>
<text transform="translate(47.10 265.30) scale(0.86 1)" font-size="6.5" text-anchor="middle" fill="#222" font-weight="normal" stroke="#222" stroke-width="0.06">&#8722;1.6</text>
<text transform="translate(69.78 265.30) scale(0.86 1)" font-size="6.5" text-anchor="middle" fill="#222" font-weight="normal" stroke="#222" stroke-width="0.06">&#8722;1.4</text>
<text transform="translate(92.46 265.30) scale(0.86 1)" font-size="6.5" text-anchor="middle" fill="#222" font-weight="normal" stroke="#222" stroke-width="0.06">&#8722;1.2</text>
<text transform="translate(115.14 265.30) scale(0.86 1)" font-size="6.5" text-anchor="middle" fill="#222" font-weight="normal" stroke="#222" stroke-width="0.06">&#8722;1.0</text>
<text transform="translate(137.82 265.30) scale(0.86 1)" font-size="6.5" text-anchor="middle" fill="#222" font-weight="normal" stroke="#222" stroke-width="0.06">&#8722;0.8</text>
<text transform="translate(160.50 265.30) scale(0.86 1)" font-size="6.5" text-anchor="middle" fill="#222" font-weight="normal" stroke="#222" stroke-width="0.06">&#8722;0.6</text>
<text transform="translate(25.80 259.70) scale(0.86 1)" font-size="6.5" text-anchor="end" fill="#222" font-weight="normal" stroke="#222" stroke-width="0.06">0</text>
<text transform="translate(25.80 239.70) scale(0.86 1)" font-size="6.5" text-anchor="end" fill="#222" font-weight="normal" stroke="#222" stroke-width="0.06">20</text>
<text transform="translate(25.80 219.70) scale(0.86 1)" font-size="6.5" text-anchor="end" fill="#222" font-weight="normal" stroke="#222" stroke-width="0.06">40</text>
<text transform="translate(25.80 199.70) scale(0.86 1)" font-size="6.5" text-anchor="end" fill="#222" font-weight="normal" stroke="#222" stroke-width="0.06">60</text>
<text transform="translate(25.80 179.70) scale(0.86 1)" font-size="6.5" text-anchor="end" fill="#222" font-weight="normal" stroke="#222" stroke-width="0.06">80</text>
<text transform="translate(25.80 159.70) scale(0.86 1)" font-size="6.5" text-anchor="end" fill="#222" font-weight="normal" stroke="#222" stroke-width="0.06">100</text>
<line x1="47.10" y1="229.80" x2="47.10" y2="238.80" stroke="#333" stroke-width="0.6"/>
<line x1="46.00" y1="229.80" x2="48.20" y2="229.80" stroke="#333" stroke-width="0.6"/>
<line x1="46.00" y1="238.80" x2="48.20" y2="238.80" stroke="#333" stroke-width="0.6"/>
<line x1="58.44" y1="221.10" x2="58.44" y2="230.30" stroke="#333" stroke-width="0.6"/>
<line x1="57.34" y1="221.10" x2="59.54" y2="221.10" stroke="#333" stroke-width="0.6"/>
<line x1="57.34" y1="230.30" x2="59.54" y2="230.30" stroke="#333" stroke-width="0.6"/>
<line x1="69.78" y1="224.90" x2="69.78" y2="232.90" stroke="#333" stroke-width="0.6"/>
<line x1="68.68" y1="224.90" x2="70.88" y2="224.90" stroke="#333" stroke-width="0.6"/>
<line x1="68.68" y1="232.90" x2="70.88" y2="232.90" stroke="#333" stroke-width="0.6"/>
<line x1="81.12" y1="216.00" x2="81.12" y2="225.60" stroke="#333" stroke-width="0.6"/>
<line x1="80.02" y1="216.00" x2="82.22" y2="216.00" stroke="#333" stroke-width="0.6"/>
<line x1="80.02" y1="225.60" x2="82.22" y2="225.60" stroke="#333" stroke-width="0.6"/>
<line x1="92.46" y1="208.40" x2="92.46" y2="224.80" stroke="#333" stroke-width="0.6"/>
<line x1="91.36" y1="208.40" x2="93.56" y2="208.40" stroke="#333" stroke-width="0.6"/>
<line x1="91.36" y1="224.80" x2="93.56" y2="224.80" stroke="#333" stroke-width="0.6"/>
<line x1="103.80" y1="213.30" x2="103.80" y2="226.50" stroke="#333" stroke-width="0.6"/>
<line x1="102.70" y1="213.30" x2="104.90" y2="213.30" stroke="#333" stroke-width="0.6"/>
<line x1="102.70" y1="226.50" x2="104.90" y2="226.50" stroke="#333" stroke-width="0.6"/>
<line x1="126.48" y1="200.20" x2="126.48" y2="203.20" stroke="#333" stroke-width="0.6"/>
<line x1="125.38" y1="200.20" x2="127.58" y2="200.20" stroke="#333" stroke-width="0.6"/>
<line x1="125.38" y1="203.20" x2="127.58" y2="203.20" stroke="#333" stroke-width="0.6"/>
<line x1="137.82" y1="175.00" x2="137.82" y2="180.00" stroke="#333" stroke-width="0.6"/>
<line x1="136.72" y1="175.00" x2="138.92" y2="175.00" stroke="#333" stroke-width="0.6"/>
<line x1="136.72" y1="180.00" x2="138.92" y2="180.00" stroke="#333" stroke-width="0.6"/>
<line x1="160.50" y1="178.20" x2="160.50" y2="187.60" stroke="#2420b8" stroke-width="0.6"/>
<line x1="159.40" y1="178.20" x2="161.60" y2="178.20" stroke="#2420b8" stroke-width="0.6"/>
<line x1="159.40" y1="187.60" x2="161.60" y2="187.60" stroke="#2420b8" stroke-width="0.6"/>
<line x1="160.50" y1="193.90" x2="160.50" y2="200.90" stroke="#fa1e1e" stroke-width="0.6"/>
<line x1="159.40" y1="193.90" x2="161.60" y2="193.90" stroke="#fa1e1e" stroke-width="0.6"/>
<line x1="159.40" y1="200.90" x2="161.60" y2="200.90" stroke="#fa1e1e" stroke-width="0.6"/>
<line x1="149.16" y1="218.40" x2="149.16" y2="222.40" stroke="#fa1e1e" stroke-width="0.6"/>
<line x1="148.06" y1="218.40" x2="150.26" y2="218.40" stroke="#fa1e1e" stroke-width="0.6"/>
<line x1="148.06" y1="222.40" x2="150.26" y2="222.40" stroke="#fa1e1e" stroke-width="0.6"/>
<line x1="137.82" y1="216.40" x2="137.82" y2="221.40" stroke="#2420b8" stroke-width="0.6"/>
<line x1="136.72" y1="216.40" x2="138.92" y2="216.40" stroke="#2420b8" stroke-width="0.6"/>
<line x1="136.72" y1="221.40" x2="138.92" y2="221.40" stroke="#2420b8" stroke-width="0.6"/>
<line x1="47.10" y1="204.00" x2="47.10" y2="208.00" stroke="#2420b8" stroke-width="0.6"/>
<line x1="46.00" y1="204.00" x2="48.20" y2="204.00" stroke="#2420b8" stroke-width="0.6"/>
<line x1="46.00" y1="208.00" x2="48.20" y2="208.00" stroke="#2420b8" stroke-width="0.6"/>
<path d="M47.10,234.30 L58.44,225.70 L69.78,228.90 L81.12,220.80 L92.46,216.60 L103.80,219.90 L115.14,217.80 L126.48,201.70 L137.82,177.50 L149.16,178.10" fill="none" stroke="#111" stroke-width="1.15" stroke-linejoin="round"/>
<path d="M81.12,241.80 L92.46,249.10 L103.80,249.90 L115.14,251.00 L126.48,245.00 L137.82,242.90 L149.16,220.40 L160.50,197.40" fill="none" stroke="#fa1e1e" stroke-width="1.15" stroke-linejoin="round"/>
<path d="M35.76,175.40 L47.10,206.00 L58.44,215.00 L69.78,230.60 L81.12,243.90 L92.46,248.90 L103.80,251.00 L115.14,255.10 L126.48,254.60 L137.82,218.90 L149.16,198.50 L160.50,182.90" fill="none" stroke="#2420b8" stroke-width="1.15" stroke-linejoin="round"/>
<circle cx="47.10" cy="234.30" r="1.55" fill="#111"/>
<circle cx="58.44" cy="225.70" r="1.55" fill="#111"/>
<circle cx="69.78" cy="228.90" r="1.55" fill="#111"/>
<circle cx="81.12" cy="220.80" r="1.55" fill="#111"/>
<circle cx="92.46" cy="216.60" r="1.55" fill="#111"/>
<circle cx="103.80" cy="219.90" r="1.55" fill="#111"/>
<circle cx="115.14" cy="217.80" r="1.55" fill="#111"/>
<circle cx="126.48" cy="201.70" r="1.55" fill="#111"/>
<circle cx="137.82" cy="177.50" r="1.55" fill="#111"/>
<circle cx="149.16" cy="178.10" r="1.55" fill="#111"/>
<path d="M81.12,239.93 L82.82,242.99 L79.42,242.99Z" fill="#fa1e1e"/>
<path d="M92.46,247.23 L94.16,250.29 L90.76,250.29Z" fill="#fa1e1e"/>
<path d="M103.80,248.03 L105.50,251.09 L102.10,251.09Z" fill="#fa1e1e"/>
<path d="M115.14,249.13 L116.84,252.19 L113.44,252.19Z" fill="#fa1e1e"/>
<path d="M126.48,243.13 L128.18,246.19 L124.78,246.19Z" fill="#fa1e1e"/>
<path d="M137.82,241.03 L139.52,244.09 L136.12,244.09Z" fill="#fa1e1e"/>
<path d="M149.16,218.53 L150.86,221.59 L147.46,221.59Z" fill="#fa1e1e"/>
<path d="M160.50,195.53 L162.20,198.59 L158.80,198.59Z" fill="#fa1e1e"/>
<circle cx="35.76" cy="175.40" r="1.55" fill="#2420b8"/>
<circle cx="47.10" cy="206.00" r="1.55" fill="#2420b8"/>
<circle cx="58.44" cy="215.00" r="1.55" fill="#2420b8"/>
<circle cx="69.78" cy="230.60" r="1.55" fill="#2420b8"/>
<circle cx="81.12" cy="243.90" r="1.55" fill="#2420b8"/>
<circle cx="92.46" cy="248.90" r="1.55" fill="#2420b8"/>
<circle cx="103.80" cy="251.00" r="1.55" fill="#2420b8"/>
<circle cx="115.14" cy="255.10" r="1.55" fill="#2420b8"/>
<circle cx="126.48" cy="254.60" r="1.55" fill="#2420b8"/>
<circle cx="137.82" cy="218.90" r="1.55" fill="#2420b8"/>
<circle cx="149.16" cy="198.50" r="1.55" fill="#2420b8"/>
<circle cx="160.50" cy="182.90" r="1.55" fill="#2420b8"/>
<rect x="30.50" y="147.50" width="136.00" height="110.00" fill="none" stroke="#1e1e1e" stroke-width="1.2"/>
<line x1="41.00" y1="155.60" x2="53.60" y2="155.60" stroke="#111" stroke-width="1.0"/>
<circle cx="47.20" cy="155.60" r="1.5" fill="#111"/>
<text transform="translate(55.00 158.00) scale(0.92 1)" font-size="6.4" text-anchor="start" fill="#333" font-weight="normal">Ag foam</text>
<line x1="41.00" y1="162.70" x2="53.60" y2="162.70" stroke="#fa1e1e" stroke-width="1.0"/>
<path d="M47.20,160.94 L48.80,163.82 L45.60,163.82Z" fill="#fa1e1e"/>
<text transform="translate(55.00 165.10) scale(0.92 1)" font-size="6.4" text-anchor="start" fill="#333" font-weight="normal">AgNP</text>
<line x1="41.00" y1="169.80" x2="53.60" y2="169.80" stroke="#2420b8" stroke-width="1.0"/>
<circle cx="47.20" cy="169.80" r="1.5" fill="#2420b8"/>
<text transform="translate(55.00 172.20) scale(0.92 1)" font-size="6.4" text-anchor="start" fill="#333" font-weight="normal">CP-Ag</text>
<text transform="translate(5.80 150.00) scale(0.95 1)" font-size="11.5" text-anchor="start" fill="#222" font-weight="normal">(d)</text>
<text transform="translate(99.00 276.70) scale(0.96 1)" font-size="9.3" text-anchor="middle" fill="#222" font-weight="normal" stroke="#222" stroke-width="0.1">E (V vs.RHE)</text>
<text transform="translate(13.30 200.80) rotate(-90) scale(0.97 1)" font-size="9.4" text-anchor="middle" fill="#222" font-weight="normal" stroke="#222" stroke-width="0.1">FE<tspan dy="2" font-size="6.6">H2</tspan><tspan dy="-2"> (%)</tspan></text>
<line x1="218.50" y1="258.50" x2="218.50" y2="261.00" stroke="#1e1e1e" stroke-width="0.9"/>
<line x1="238.50" y1="258.50" x2="238.50" y2="261.00" stroke="#1e1e1e" stroke-width="0.9"/>
<line x1="257.50" y1="258.50" x2="257.50" y2="261.00" stroke="#1e1e1e" stroke-width="0.9"/>
<line x1="277.50" y1="258.50" x2="277.50" y2="261.00" stroke="#1e1e1e" stroke-width="0.9"/>
<line x1="297.50" y1="258.50" x2="297.50" y2="261.00" stroke="#1e1e1e" stroke-width="0.9"/>
<line x1="316.50" y1="258.50" x2="316.50" y2="261.00" stroke="#1e1e1e" stroke-width="0.9"/>
<line x1="336.50" y1="258.50" x2="336.50" y2="261.00" stroke="#1e1e1e" stroke-width="0.9"/>
<line x1="228.50" y1="258.50" x2="228.50" y2="260.20" stroke="#1e1e1e" stroke-width="0.9"/>
<line x1="248.50" y1="258.50" x2="248.50" y2="260.20" stroke="#1e1e1e" stroke-width="0.9"/>
<line x1="267.50" y1="258.50" x2="267.50" y2="260.20" stroke="#1e1e1e" stroke-width="0.9"/>
<line x1="287.50" y1="258.50" x2="287.50" y2="260.20" stroke="#1e1e1e" stroke-width="0.9"/>
<line x1="306.50" y1="258.50" x2="306.50" y2="260.20" stroke="#1e1e1e" stroke-width="0.9"/>
<line x1="326.50" y1="258.50" x2="326.50" y2="260.20" stroke="#1e1e1e" stroke-width="0.9"/>
<line x1="209.50" y1="158.50" x2="207.00" y2="158.50" stroke="#1e1e1e" stroke-width="0.9"/>
<line x1="209.50" y1="178.50" x2="207.00" y2="178.50" stroke="#1e1e1e" stroke-width="0.9"/>
<line x1="209.50" y1="198.50" x2="207.00" y2="198.50" stroke="#1e1e1e" stroke-width="0.9"/>
<line x1="209.50" y1="218.50" x2="207.00" y2="218.50" stroke="#1e1e1e" stroke-width="0.9"/>
<line x1="209.50" y1="238.50" x2="207.00" y2="238.50" stroke="#1e1e1e" stroke-width="0.9"/>
<line x1="209.50" y1="258.50" x2="207.00" y2="258.50" stroke="#1e1e1e" stroke-width="0.9"/>
<line x1="209.50" y1="168.50" x2="207.80" y2="168.50" stroke="#1e1e1e" stroke-width="0.9"/>
<line x1="209.50" y1="188.50" x2="207.80" y2="188.50" stroke="#1e1e1e" stroke-width="0.9"/>
<line x1="209.50" y1="208.50" x2="207.80" y2="208.50" stroke="#1e1e1e" stroke-width="0.9"/>
<line x1="209.50" y1="228.50" x2="207.80" y2="228.50" stroke="#1e1e1e" stroke-width="0.9"/>
<line x1="209.50" y1="248.50" x2="207.80" y2="248.50" stroke="#1e1e1e" stroke-width="0.9"/>
<text transform="translate(218.80 266.30) scale(0.86 1)" font-size="6.5" text-anchor="middle" fill="#222" font-weight="normal" stroke="#222" stroke-width="0.06">&#8722;1.2</text>
<text transform="translate(238.38 266.30) scale(0.86 1)" font-size="6.5" text-anchor="middle" fill="#222" font-weight="normal" stroke="#222" stroke-width="0.06">&#8722;1.1</text>
<text transform="translate(257.96 266.30) scale(0.86 1)" font-size="6.5" text-anchor="middle" fill="#222" font-weight="normal" stroke="#222" stroke-width="0.06">&#8722;1.0</text>
<text transform="translate(277.54 266.30) scale(0.86 1)" font-size="6.5" text-anchor="middle" fill="#222" font-weight="normal" stroke="#222" stroke-width="0.06">&#8722;0.9</text>
<text transform="translate(297.12 266.30) scale(0.86 1)" font-size="6.5" text-anchor="middle" fill="#222" font-weight="normal" stroke="#222" stroke-width="0.06">&#8722;0.8</text>
<text transform="translate(316.70 266.30) scale(0.86 1)" font-size="6.5" text-anchor="middle" fill="#222" font-weight="normal" stroke="#222" stroke-width="0.06">&#8722;0.7</text>
<text transform="translate(336.28 266.30) scale(0.86 1)" font-size="6.5" text-anchor="middle" fill="#222" font-weight="normal" stroke="#222" stroke-width="0.06">&#8722;0.6</text>
<text transform="translate(204.80 160.60) scale(0.86 1)" font-size="6.5" text-anchor="end" fill="#222" font-weight="normal" stroke="#222" stroke-width="0.06">0</text>
<text transform="translate(204.80 180.60) scale(0.86 1)" font-size="6.5" text-anchor="end" fill="#222" font-weight="normal" stroke="#222" stroke-width="0.06">&#8722;2</text>
<text transform="translate(204.80 200.60) scale(0.86 1)" font-size="6.5" text-anchor="end" fill="#222" font-weight="normal" stroke="#222" stroke-width="0.06">&#8722;4</text>
<text transform="translate(204.80 220.60) scale(0.86 1)" font-size="6.5" text-anchor="end" fill="#222" font-weight="normal" stroke="#222" stroke-width="0.06">&#8722;6</text>
<text transform="translate(204.80 240.60) scale(0.86 1)" font-size="6.5" text-anchor="end" fill="#222" font-weight="normal" stroke="#222" stroke-width="0.06">&#8722;8</text>
<text transform="translate(204.80 260.60) scale(0.86 1)" font-size="6.5" text-anchor="end" fill="#222" font-weight="normal" stroke="#222" stroke-width="0.06">&#8722;10</text>
<line x1="238.38" y1="154.50" x2="238.38" y2="162.50" stroke="#333" stroke-width="0.6"/>
<line x1="237.28" y1="154.50" x2="239.48" y2="154.50" stroke="#333" stroke-width="0.6"/>
<line x1="237.28" y1="162.50" x2="239.48" y2="162.50" stroke="#333" stroke-width="0.6"/>
<line x1="218.80" y1="229.90" x2="218.80" y2="243.90" stroke="#2420b8" stroke-width="0.6"/>
<line x1="217.70" y1="229.90" x2="219.90" y2="229.90" stroke="#2420b8" stroke-width="0.6"/>
<line x1="217.70" y1="243.90" x2="219.90" y2="243.90" stroke="#2420b8" stroke-width="0.6"/>
<line x1="238.38" y1="218.20" x2="238.38" y2="223.20" stroke="#2420b8" stroke-width="0.6"/>
<line x1="237.28" y1="218.20" x2="239.48" y2="218.20" stroke="#2420b8" stroke-width="0.6"/>
<line x1="237.28" y1="223.20" x2="239.48" y2="223.20" stroke="#2420b8" stroke-width="0.6"/>
<line x1="257.96" y1="197.10" x2="257.96" y2="207.70" stroke="#2420b8" stroke-width="0.6"/>
<line x1="256.86" y1="197.10" x2="259.06" y2="197.10" stroke="#2420b8" stroke-width="0.6"/>
<line x1="256.86" y1="207.70" x2="259.06" y2="207.70" stroke="#2420b8" stroke-width="0.6"/>
<line x1="277.54" y1="179.40" x2="277.54" y2="186.40" stroke="#2420b8" stroke-width="0.6"/>
<line x1="276.44" y1="179.40" x2="278.64" y2="179.40" stroke="#2420b8" stroke-width="0.6"/>
<line x1="276.44" y1="186.40" x2="278.64" y2="186.40" stroke="#2420b8" stroke-width="0.6"/>
<line x1="218.80" y1="199.20" x2="218.80" y2="204.20" stroke="#fa1e1e" stroke-width="0.6"/>
<line x1="217.70" y1="199.20" x2="219.90" y2="199.20" stroke="#fa1e1e" stroke-width="0.6"/>
<line x1="217.70" y1="204.20" x2="219.90" y2="204.20" stroke="#fa1e1e" stroke-width="0.6"/>
<line x1="238.38" y1="188.50" x2="238.38" y2="193.50" stroke="#fa1e1e" stroke-width="0.6"/>
<line x1="237.28" y1="188.50" x2="239.48" y2="188.50" stroke="#fa1e1e" stroke-width="0.6"/>
<line x1="237.28" y1="193.50" x2="239.48" y2="193.50" stroke="#fa1e1e" stroke-width="0.6"/>
<line x1="277.54" y1="170.50" x2="277.54" y2="177.10" stroke="#fa1e1e" stroke-width="0.6"/>
<line x1="276.44" y1="170.50" x2="278.64" y2="170.50" stroke="#fa1e1e" stroke-width="0.6"/>
<line x1="276.44" y1="177.10" x2="278.64" y2="177.10" stroke="#fa1e1e" stroke-width="0.6"/>
<path d="M218.80,158.50 L238.38,158.50 L257.96,158.50 L277.54,158.50 L297.12,158.50 L316.70,158.50 L336.28,158.50" fill="none" stroke="#111" stroke-width="1.15" stroke-linejoin="round"/>
<path d="M218.80,201.70 L238.38,191.00 L257.96,181.00 L277.54,173.80 L297.12,165.90 L316.70,160.40 L336.28,159.40" fill="none" stroke="#fa1e1e" stroke-width="1.15" stroke-linejoin="round"/>
<path d="M218.80,236.90 L238.38,220.70 L257.96,202.40 L277.54,182.90 L297.12,173.80 L316.70,163.50 L336.28,158.60" fill="none" stroke="#2420b8" stroke-width="1.15" stroke-linejoin="round"/>
<rect x="217.35" y="157.05" width="2.90" height="2.90" fill="#111"/>
<rect x="236.93" y="157.05" width="2.90" height="2.90" fill="#111"/>
<rect x="256.51" y="157.05" width="2.90" height="2.90" fill="#111"/>
<rect x="276.09" y="157.05" width="2.90" height="2.90" fill="#111"/>
<rect x="295.67" y="157.05" width="2.90" height="2.90" fill="#111"/>
<rect x="315.25" y="157.05" width="2.90" height="2.90" fill="#111"/>
<rect x="334.83" y="157.05" width="2.90" height="2.90" fill="#111"/>
<path d="M218.80,199.83 L220.50,202.89 L217.10,202.89Z" fill="#fa1e1e"/>
<path d="M238.38,189.13 L240.08,192.19 L236.68,192.19Z" fill="#fa1e1e"/>
<path d="M257.96,179.13 L259.66,182.19 L256.26,182.19Z" fill="#fa1e1e"/>
<path d="M277.54,171.93 L279.24,174.99 L275.84,174.99Z" fill="#fa1e1e"/>
<path d="M297.12,164.03 L298.82,167.09 L295.42,167.09Z" fill="#fa1e1e"/>
<path d="M316.70,158.53 L318.40,161.59 L315.00,161.59Z" fill="#fa1e1e"/>
<path d="M336.28,157.53 L337.98,160.59 L334.58,160.59Z" fill="#fa1e1e"/>
<circle cx="218.80" cy="236.90" r="1.55" fill="#2420b8"/>
<circle cx="238.38" cy="220.70" r="1.55" fill="#2420b8"/>
<circle cx="257.96" cy="202.40" r="1.55" fill="#2420b8"/>
<circle cx="277.54" cy="182.90" r="1.55" fill="#2420b8"/>
<circle cx="297.12" cy="173.80" r="1.55" fill="#2420b8"/>
<circle cx="316.70" cy="163.50" r="1.55" fill="#2420b8"/>
<circle cx="336.28" cy="158.60" r="1.55" fill="#2420b8"/>
<rect x="209.50" y="148.50" width="136.00" height="110.00" fill="none" stroke="#1e1e1e" stroke-width="1.2"/>
<line x1="303.10" y1="180.10" x2="316.30" y2="180.10" stroke="#111" stroke-width="1.0"/>
<rect x="308.50" y="178.80" width="2.60" height="2.60" fill="#111"/>
<text transform="translate(317.50 182.50) scale(0.92 1)" font-size="6.4" text-anchor="start" fill="#333" font-weight="normal">Ag foam</text>
<line x1="303.10" y1="187.10" x2="316.30" y2="187.10" stroke="#fa1e1e" stroke-width="1.0"/>
<path d="M309.80,185.34 L311.40,188.22 L308.20,188.22Z" fill="#fa1e1e"/>
<text transform="translate(317.50 189.50) scale(0.92 1)" font-size="6.4" text-anchor="start" fill="#333" font-weight="normal">AgNP</text>
<line x1="303.10" y1="194.20" x2="316.30" y2="194.20" stroke="#2420b8" stroke-width="1.0"/>
<circle cx="309.80" cy="194.20" r="1.5" fill="#2420b8"/>
<text transform="translate(317.50 196.60) scale(0.92 1)" font-size="6.4" text-anchor="start" fill="#333" font-weight="normal">CP-Ag</text>
<text transform="translate(176.00 151.50) scale(0.95 1)" font-size="11.5" text-anchor="start" fill="#222" font-weight="normal">(e)</text>
<text transform="translate(277.40 277.80) scale(0.96 1)" font-size="9.3" text-anchor="middle" fill="#222" font-weight="normal" stroke="#222" stroke-width="0.1">E (V vs.RHE)</text>
<text transform="translate(189.80 196.90) rotate(-90)" font-size="9.6" text-anchor="middle" fill="#222" font-weight="normal" stroke="#222" stroke-width="0.1"><tspan font-style="italic">j</tspan><tspan dy="2" font-size="6.6">CO</tspan><tspan dy="-2"> (mA cm</tspan><tspan dy="-3" font-size="6.2">&#8722;2</tspan><tspan dy="3">)</tspan></text>
<line x1="387.50" y1="258.50" x2="387.50" y2="261.00" stroke="#1e1e1e" stroke-width="0.9"/>
<line x1="414.50" y1="258.50" x2="414.50" y2="261.00" stroke="#1e1e1e" stroke-width="0.9"/>
<line x1="442.50" y1="258.50" x2="442.50" y2="261.00" stroke="#1e1e1e" stroke-width="0.9"/>
<line x1="469.50" y1="258.50" x2="469.50" y2="261.00" stroke="#1e1e1e" stroke-width="0.9"/>
<line x1="496.50" y1="258.50" x2="496.50" y2="261.00" stroke="#1e1e1e" stroke-width="0.9"/>
<line x1="524.50" y1="258.50" x2="524.50" y2="261.00" stroke="#1e1e1e" stroke-width="0.9"/>
<line x1="400.50" y1="258.50" x2="400.50" y2="260.20" stroke="#1e1e1e" stroke-width="0.9"/>
<line x1="428.50" y1="258.50" x2="428.50" y2="260.20" stroke="#1e1e1e" stroke-width="0.9"/>
<line x1="455.50" y1="258.50" x2="455.50" y2="260.20" stroke="#1e1e1e" stroke-width="0.9"/>
<line x1="483.50" y1="258.50" x2="483.50" y2="260.20" stroke="#1e1e1e" stroke-width="0.9"/>
<line x1="510.50" y1="258.50" x2="510.50" y2="260.20" stroke="#1e1e1e" stroke-width="0.9"/>
<line x1="387.50" y1="258.50" x2="385.00" y2="258.50" stroke="#1e1e1e" stroke-width="0.9"/>
<line x1="387.50" y1="236.50" x2="385.00" y2="236.50" stroke="#1e1e1e" stroke-width="0.9"/>
<line x1="387.50" y1="214.50" x2="385.00" y2="214.50" stroke="#1e1e1e" stroke-width="0.9"/>
<line x1="387.50" y1="192.50" x2="385.00" y2="192.50" stroke="#1e1e1e" stroke-width="0.9"/>
<line x1="387.50" y1="170.50" x2="385.00" y2="170.50" stroke="#1e1e1e" stroke-width="0.9"/>
<line x1="387.50" y1="148.50" x2="385.00" y2="148.50" stroke="#1e1e1e" stroke-width="0.9"/>
<line x1="387.50" y1="247.50" x2="385.80" y2="247.50" stroke="#1e1e1e" stroke-width="0.9"/>
<line x1="387.50" y1="225.50" x2="385.80" y2="225.50" stroke="#1e1e1e" stroke-width="0.9"/>
<line x1="387.50" y1="203.50" x2="385.80" y2="203.50" stroke="#1e1e1e" stroke-width="0.9"/>
<line x1="387.50" y1="181.50" x2="385.80" y2="181.50" stroke="#1e1e1e" stroke-width="0.9"/>
<line x1="387.50" y1="159.50" x2="385.80" y2="159.50" stroke="#1e1e1e" stroke-width="0.9"/>
<text transform="translate(387.20 266.40) scale(0.86 1)" font-size="6.5" text-anchor="middle" fill="#222" font-weight="normal" stroke="#222" stroke-width="0.06">&#8722;1.5</text>
<text transform="translate(414.60 266.40) scale(0.86 1)" font-size="6.5" text-anchor="middle" fill="#222" font-weight="normal" stroke="#222" stroke-width="0.06">&#8722;1.0</text>
<text transform="translate(442.00 266.40) scale(0.86 1)" font-size="6.5" text-anchor="middle" fill="#222" font-weight="normal" stroke="#222" stroke-width="0.06">&#8722;0.5</text>
<text transform="translate(469.40 266.40) scale(0.86 1)" font-size="6.5" text-anchor="middle" fill="#222" font-weight="normal" stroke="#222" stroke-width="0.06">0.0</text>
<text transform="translate(496.80 266.40) scale(0.86 1)" font-size="6.5" text-anchor="middle" fill="#222" font-weight="normal" stroke="#222" stroke-width="0.06">0.5</text>
<text transform="translate(524.20 266.40) scale(0.86 1)" font-size="6.5" text-anchor="middle" fill="#222" font-weight="normal" stroke="#222" stroke-width="0.06">1.0</text>
<text transform="translate(383.10 260.60) scale(0.86 1)" font-size="6.5" text-anchor="end" fill="#222" font-weight="normal" stroke="#222" stroke-width="0.06">&#8722;0.4</text>
<text transform="translate(383.10 238.60) scale(0.86 1)" font-size="6.5" text-anchor="end" fill="#222" font-weight="normal" stroke="#222" stroke-width="0.06">&#8722;0.5</text>
<text transform="translate(383.10 216.60) scale(0.86 1)" font-size="6.5" text-anchor="end" fill="#222" font-weight="normal" stroke="#222" stroke-width="0.06">&#8722;0.6</text>
<text transform="translate(383.10 194.60) scale(0.86 1)" font-size="6.5" text-anchor="end" fill="#222" font-weight="normal" stroke="#222" stroke-width="0.06">&#8722;0.7</text>
<text transform="translate(383.10 172.60) scale(0.86 1)" font-size="6.5" text-anchor="end" fill="#222" font-weight="normal" stroke="#222" stroke-width="0.06">&#8722;0.8</text>
<text transform="translate(383.10 150.60) scale(0.86 1)" font-size="6.5" text-anchor="end" fill="#222" font-weight="normal" stroke="#222" stroke-width="0.06">&#8722;0.9</text>
<path d="M433.30,216.90 L480.20,175.30" fill="none" stroke="#fa1e1e" stroke-width="1.3" stroke-linejoin="round"/>
<path d="M406.70,238.90 L479.60,197.30" fill="none" stroke="#2420b8" stroke-width="1.3" stroke-linejoin="round"/>
<circle cx="433.30" cy="216.80" r="1.5" fill="#fa1e1e"/>
<circle cx="463.10" cy="194.60" r="1.5" fill="#fa1e1e"/>
<circle cx="480.40" cy="172.20" r="1.5" fill="#fa1e1e"/>
<circle cx="406.70" cy="239.00" r="1.5" fill="#2420b8"/>
<circle cx="453.90" cy="216.40" r="1.5" fill="#2420b8"/>
<circle cx="479.60" cy="194.50" r="1.5" fill="#2420b8"/>
<rect x="387.50" y="148.50" width="137.00" height="110.00" fill="none" stroke="#1e1e1e" stroke-width="1.2"/>
<circle cx="403.70" cy="162.30" r="1.5" fill="#2420b8"/>
<text transform="translate(411.40 164.90) scale(0.92 1)" font-size="6.4" text-anchor="start" fill="#333" font-weight="normal">CP-Ag</text>
<circle cx="403.70" cy="169.30" r="1.5" fill="#fa1e1e"/>
<text transform="translate(411.40 171.70) scale(0.92 1)" font-size="6.4" text-anchor="start" fill="#333" font-weight="normal">AgNP</text>
<text transform="translate(457.50 191.20) rotate(-44)" font-size="5.9" text-anchor="middle" fill="#f22222" font-weight="bold">239 mV dec<tspan dy="-2.4" font-size="4.4">&#8722;1</tspan></text>
<text transform="translate(476.00 215.00) rotate(-31)" font-size="5.9" text-anchor="middle" fill="#4a86e2" font-weight="bold">147 mV dec<tspan dy="-2.4" font-size="4.4">&#8722;1</tspan></text>
<text transform="translate(354.70 149.40) scale(0.95 1)" font-size="11.5" text-anchor="start" fill="#222" font-weight="normal">(f)</text>
<text transform="translate(455.90 276.20) scale(0.95 1)" font-size="7.4" text-anchor="middle" fill="#222" font-weight="normal">log<tspan dy="1.6" font-size="5.4">j</tspan><tspan dy="0.8" font-size="4.4">CO</tspan><tspan dy="-2.4"> (mA cm</tspan><tspan dy="-2.6" font-size="5">&#8722;2</tspan><tspan dy="2.6">)</tspan></text>
<text transform="translate(367.60 203.80) rotate(-90) scale(0.918 1)" font-size="9.3" text-anchor="middle" fill="#222" font-weight="normal" stroke="#222" stroke-width="0.1">overpotential (V vs.RHE)</text>
<line x1="33.50" y1="287.50" x2="521.50" y2="287.50" stroke="#222" stroke-width="1.2"/>
<line x1="33.50" y1="395.80" x2="521.50" y2="395.80" stroke="#555" stroke-width="1.8"/>
<line x1="33.50" y1="286.90" x2="33.50" y2="395.80" stroke="#1f6fe0" stroke-width="1.3"/>
<line x1="521.50" y1="286.90" x2="521.50" y2="395.80" stroke="#3bb57a" stroke-width="1.2"/>
<line x1="33.50" y1="395.80" x2="33.50" y2="398.40" stroke="#444" stroke-width="0.9"/>
<line x1="94.50" y1="395.80" x2="94.50" y2="398.40" stroke="#444" stroke-width="0.9"/>
<line x1="155.50" y1="395.80" x2="155.50" y2="398.40" stroke="#444" stroke-width="0.9"/>
<line x1="216.50" y1="395.80" x2="216.50" y2="398.40" stroke="#444" stroke-width="0.9"/>
<line x1="277.50" y1="395.80" x2="277.50" y2="398.40" stroke="#444" stroke-width="0.9"/>
<line x1="338.50" y1="395.80" x2="338.50" y2="398.40" stroke="#444" stroke-width="0.9"/>
<line x1="399.50" y1="395.80" x2="399.50" y2="398.40" stroke="#444" stroke-width="0.9"/>
<line x1="460.50" y1="395.80" x2="460.50" y2="398.40" stroke="#444" stroke-width="0.9"/>
<line x1="521.50" y1="395.80" x2="521.50" y2="398.40" stroke="#444" stroke-width="0.9"/>
<line x1="64.50" y1="395.80" x2="64.50" y2="397.60" stroke="#444" stroke-width="0.9"/>
<line x1="125.50" y1="395.80" x2="125.50" y2="397.60" stroke="#444" stroke-width="0.9"/>
<line x1="186.50" y1="395.80" x2="186.50" y2="397.60" stroke="#444" stroke-width="0.9"/>
<line x1="247.50" y1="395.80" x2="247.50" y2="397.60" stroke="#444" stroke-width="0.9"/>
<line x1="308.50" y1="395.80" x2="308.50" y2="397.60" stroke="#444" stroke-width="0.9"/>
<line x1="369.50" y1="395.80" x2="369.50" y2="397.60" stroke="#444" stroke-width="0.9"/>
<line x1="430.50" y1="395.80" x2="430.50" y2="397.60" stroke="#444" stroke-width="0.9"/>
<line x1="491.50" y1="395.80" x2="491.50" y2="397.60" stroke="#444" stroke-width="0.9"/>
<line x1="33.50" y1="287.50" x2="31.00" y2="287.50" stroke="#1f6fe0" stroke-width="0.9"/>
<line x1="33.50" y1="305.50" x2="31.00" y2="305.50" stroke="#1f6fe0" stroke-width="0.9"/>
<line x1="33.50" y1="323.50" x2="31.00" y2="323.50" stroke="#1f6fe0" stroke-width="0.9"/>
<line x1="33.50" y1="341.50" x2="31.00" y2="341.50" stroke="#1f6fe0" stroke-width="0.9"/>
<line x1="33.50" y1="359.50" x2="31.00" y2="359.50" stroke="#1f6fe0" stroke-width="0.9"/>
<line x1="33.50" y1="377.50" x2="31.00" y2="377.50" stroke="#1f6fe0" stroke-width="0.9"/>
<line x1="33.50" y1="395.50" x2="31.00" y2="395.50" stroke="#1f6fe0" stroke-width="0.9"/>
<line x1="33.50" y1="296.50" x2="31.80" y2="296.50" stroke="#1f6fe0" stroke-width="0.9"/>
<line x1="33.50" y1="314.50" x2="31.80" y2="314.50" stroke="#1f6fe0" stroke-width="0.9"/>
<line x1="33.50" y1="332.50" x2="31.80" y2="332.50" stroke="#1f6fe0" stroke-width="0.9"/>
<line x1="33.50" y1="350.50" x2="31.80" y2="350.50" stroke="#1f6fe0" stroke-width="0.9"/>
<line x1="33.50" y1="368.50" x2="31.80" y2="368.50" stroke="#1f6fe0" stroke-width="0.9"/>
<line x1="33.50" y1="386.50" x2="31.80" y2="386.50" stroke="#1f6fe0" stroke-width="0.9"/>
<line x1="521.50" y1="395.50" x2="524.00" y2="395.50" stroke="#3bb57a" stroke-width="0.9"/>
<line x1="521.50" y1="374.50" x2="524.00" y2="374.50" stroke="#3bb57a" stroke-width="0.9"/>
<line x1="521.50" y1="352.50" x2="524.00" y2="352.50" stroke="#3bb57a" stroke-width="0.9"/>
<line x1="521.50" y1="330.50" x2="524.00" y2="330.50" stroke="#3bb57a" stroke-width="0.9"/>
<line x1="521.50" y1="309.50" x2="524.00" y2="309.50" stroke="#3bb57a" stroke-width="0.9"/>
<line x1="521.50" y1="287.50" x2="524.00" y2="287.50" stroke="#3bb57a" stroke-width="0.9"/>
<line x1="521.50" y1="384.50" x2="523.20" y2="384.50" stroke="#3bb57a" stroke-width="0.9"/>
<line x1="521.50" y1="363.50" x2="523.20" y2="363.50" stroke="#3bb57a" stroke-width="0.9"/>
<line x1="521.50" y1="341.50" x2="523.20" y2="341.50" stroke="#3bb57a" stroke-width="0.9"/>
<line x1="521.50" y1="319.50" x2="523.20" y2="319.50" stroke="#3bb57a" stroke-width="0.9"/>
<line x1="521.50" y1="298.50" x2="523.20" y2="298.50" stroke="#3bb57a" stroke-width="0.9"/>
<text transform="translate(33.50 404.40)" font-size="6.8" text-anchor="middle" fill="#333" font-weight="normal" stroke="#333" stroke-width="0.06">0</text>
<text transform="translate(94.50 404.40)" font-size="6.8" text-anchor="middle" fill="#333" font-weight="normal" stroke="#333" stroke-width="0.06">5</text>
<text transform="translate(155.50 404.40)" font-size="6.8" text-anchor="middle" fill="#333" font-weight="normal" stroke="#333" stroke-width="0.06">10</text>
<text transform="translate(216.50 404.40)" font-size="6.8" text-anchor="middle" fill="#333" font-weight="normal" stroke="#333" stroke-width="0.06">15</text>
<text transform="translate(277.50 404.40)" font-size="6.8" text-anchor="middle" fill="#333" font-weight="normal" stroke="#333" stroke-width="0.06">20</text>
<text transform="translate(338.50 404.40)" font-size="6.8" text-anchor="middle" fill="#333" font-weight="normal" stroke="#333" stroke-width="0.06">25</text>
<text transform="translate(399.50 404.40)" font-size="6.8" text-anchor="middle" fill="#333" font-weight="normal" stroke="#333" stroke-width="0.06">30</text>
<text transform="translate(460.50 404.40)" font-size="6.8" text-anchor="middle" fill="#333" font-weight="normal" stroke="#333" stroke-width="0.06">35</text>
<text transform="translate(521.50 404.40)" font-size="6.8" text-anchor="middle" fill="#333" font-weight="normal" stroke="#333" stroke-width="0.06">40</text>
<text transform="translate(29.30 289.80) scale(0.95 1)" font-size="6.4" text-anchor="end" fill="#1f6fe0" font-weight="normal">3</text>
<text transform="translate(29.30 307.85) scale(0.95 1)" font-size="6.4" text-anchor="end" fill="#1f6fe0" font-weight="normal">2</text>
<text transform="translate(29.30 325.90) scale(0.95 1)" font-size="6.4" text-anchor="end" fill="#1f6fe0" font-weight="normal">1</text>
<text transform="translate(29.30 343.95) scale(0.95 1)" font-size="6.4" text-anchor="end" fill="#1f6fe0" font-weight="normal">0</text>
<text transform="translate(29.30 362.00) scale(0.95 1)" font-size="6.4" text-anchor="end" fill="#1f6fe0" font-weight="normal">&#8722;1</text>
<text transform="translate(29.30 380.05) scale(0.95 1)" font-size="6.4" text-anchor="end" fill="#1f6fe0" font-weight="normal">&#8722;2</text>
<text transform="translate(29.30 398.10) scale(0.95 1)" font-size="6.4" text-anchor="end" fill="#1f6fe0" font-weight="normal">&#8722;3</text>
<text transform="translate(525.30 398.10) scale(0.95 1)" font-size="6.4" text-anchor="start" fill="#3bb57a" font-weight="normal">0</text>
<text transform="translate(525.30 376.44) scale(0.95 1)" font-size="6.4" text-anchor="start" fill="#3bb57a" font-weight="normal">20</text>
<text transform="translate(525.30 354.78) scale(0.95 1)" font-size="6.4" text-anchor="start" fill="#3bb57a" font-weight="normal">40</text>
<text transform="translate(525.30 333.12) scale(0.95 1)" font-size="6.4" text-anchor="start" fill="#3bb57a" font-weight="normal">60</text>
<text transform="translate(525.30 311.46) scale(0.95 1)" font-size="6.4" text-anchor="start" fill="#3bb57a" font-weight="normal">80</text>
<text transform="translate(525.30 289.80) scale(0.95 1)" font-size="6.4" text-anchor="start" fill="#3bb57a" font-weight="normal">100</text>
<path d="M33.50,359.60 L38.00,359.90 L42.70,360.40 L60.00,360.80 L75.00,361.10 L100.00,361.50 L130.00,361.90 L180.00,362.20 L230.00,362.40 L280.00,362.60 L330.00,362.80 L340.00,362.40 L380.00,362.70 L430.00,363.10 L475.00,362.70 L521.50,363.10" fill="none" stroke="#1f6fe0" stroke-width="1.7" stroke-linejoin="round"/>
<circle cx="45.70" cy="289.50" r="1.55" fill="#1aa05a"/>
<circle cx="57.90" cy="290.40" r="1.55" fill="#1aa05a"/>
<circle cx="70.10" cy="289.10" r="1.55" fill="#1aa05a"/>
<circle cx="82.30" cy="291.30" r="1.55" fill="#1aa05a"/>
<circle cx="94.50" cy="290.40" r="1.55" fill="#1aa05a"/>
<circle cx="106.70" cy="294.00" r="1.55" fill="#1aa05a"/>
<circle cx="118.90" cy="293.10" r="1.55" fill="#1aa05a"/>
<circle cx="131.10" cy="292.00" r="1.55" fill="#1aa05a"/>
<circle cx="167.70" cy="295.00" r="1.55" fill="#1aa05a"/>
<circle cx="179.90" cy="294.70" r="1.55" fill="#1aa05a"/>
<circle cx="192.10" cy="298.00" r="1.55" fill="#1aa05a"/>
<circle cx="326.30" cy="294.50" r="1.55" fill="#1aa05a"/>
<circle cx="338.50" cy="293.50" r="1.55" fill="#1aa05a"/>
<circle cx="350.70" cy="294.70" r="1.55" fill="#1aa05a"/>
<circle cx="362.90" cy="293.50" r="1.55" fill="#1aa05a"/>
<circle cx="375.10" cy="294.70" r="1.55" fill="#1aa05a"/>
<circle cx="387.30" cy="297.50" r="1.55" fill="#1aa05a"/>
<circle cx="399.50" cy="298.20" r="1.55" fill="#1aa05a"/>
<circle cx="411.70" cy="297.60" r="1.55" fill="#1aa05a"/>
<circle cx="448.30" cy="298.20" r="1.55" fill="#1aa05a"/>
<circle cx="460.50" cy="297.50" r="1.55" fill="#1aa05a"/>
<circle cx="472.70" cy="298.40" r="1.55" fill="#1aa05a"/>
<text transform="translate(300.60 348.30)" font-size="6.75" text-anchor="start" fill="#333" font-weight="normal">Refreshing electrolyte</text>
<line x1="336.30" y1="351.30" x2="336.30" y2="358.00" stroke="#222" stroke-width="0.7"/>
<path d="M335.0,356.4 L336.3,359.3 L337.6,356.4 Z" fill="#222"/>
<text transform="translate(48.20 381.00)" font-size="6.5" text-anchor="start" fill="#333" font-weight="normal">&#8722;50 mA cm<tspan dy="-2.8" font-size="5.4">&#8722;2</tspan></text>
<text transform="translate(47.90 390.20)" font-size="6.5" text-anchor="start" fill="#333" font-weight="normal">0.1 M KHCO<tspan dy="1.6" font-size="5">3</tspan></text>
<text transform="translate(5.60 292.60) scale(0.95 1)" font-size="11.5" text-anchor="start" fill="#222" font-weight="normal">(g)</text>
<text transform="translate(277.40 415.00)" font-size="8.2" text-anchor="middle" fill="#222" font-weight="normal" stroke="#222" stroke-width="0.0001">Time (h)</text>
<text transform="translate(18.70 341.00) rotate(-90)" font-size="8.2" text-anchor="middle" fill="#1f6fe0" font-weight="normal" stroke="#1f6fe0" stroke-width="0.0001">E (V vs.RHE)</text>
<text transform="translate(544.50 341.00) rotate(-90)" font-size="8.2" text-anchor="middle" fill="#4cbf86" font-weight="normal" stroke="#4cbf86" stroke-width="0.0001">FE<tspan dy="1.8" font-size="5.8">CO</tspan><tspan dy="-1.8"> (%)</tspan></text>
</svg></body></html>
